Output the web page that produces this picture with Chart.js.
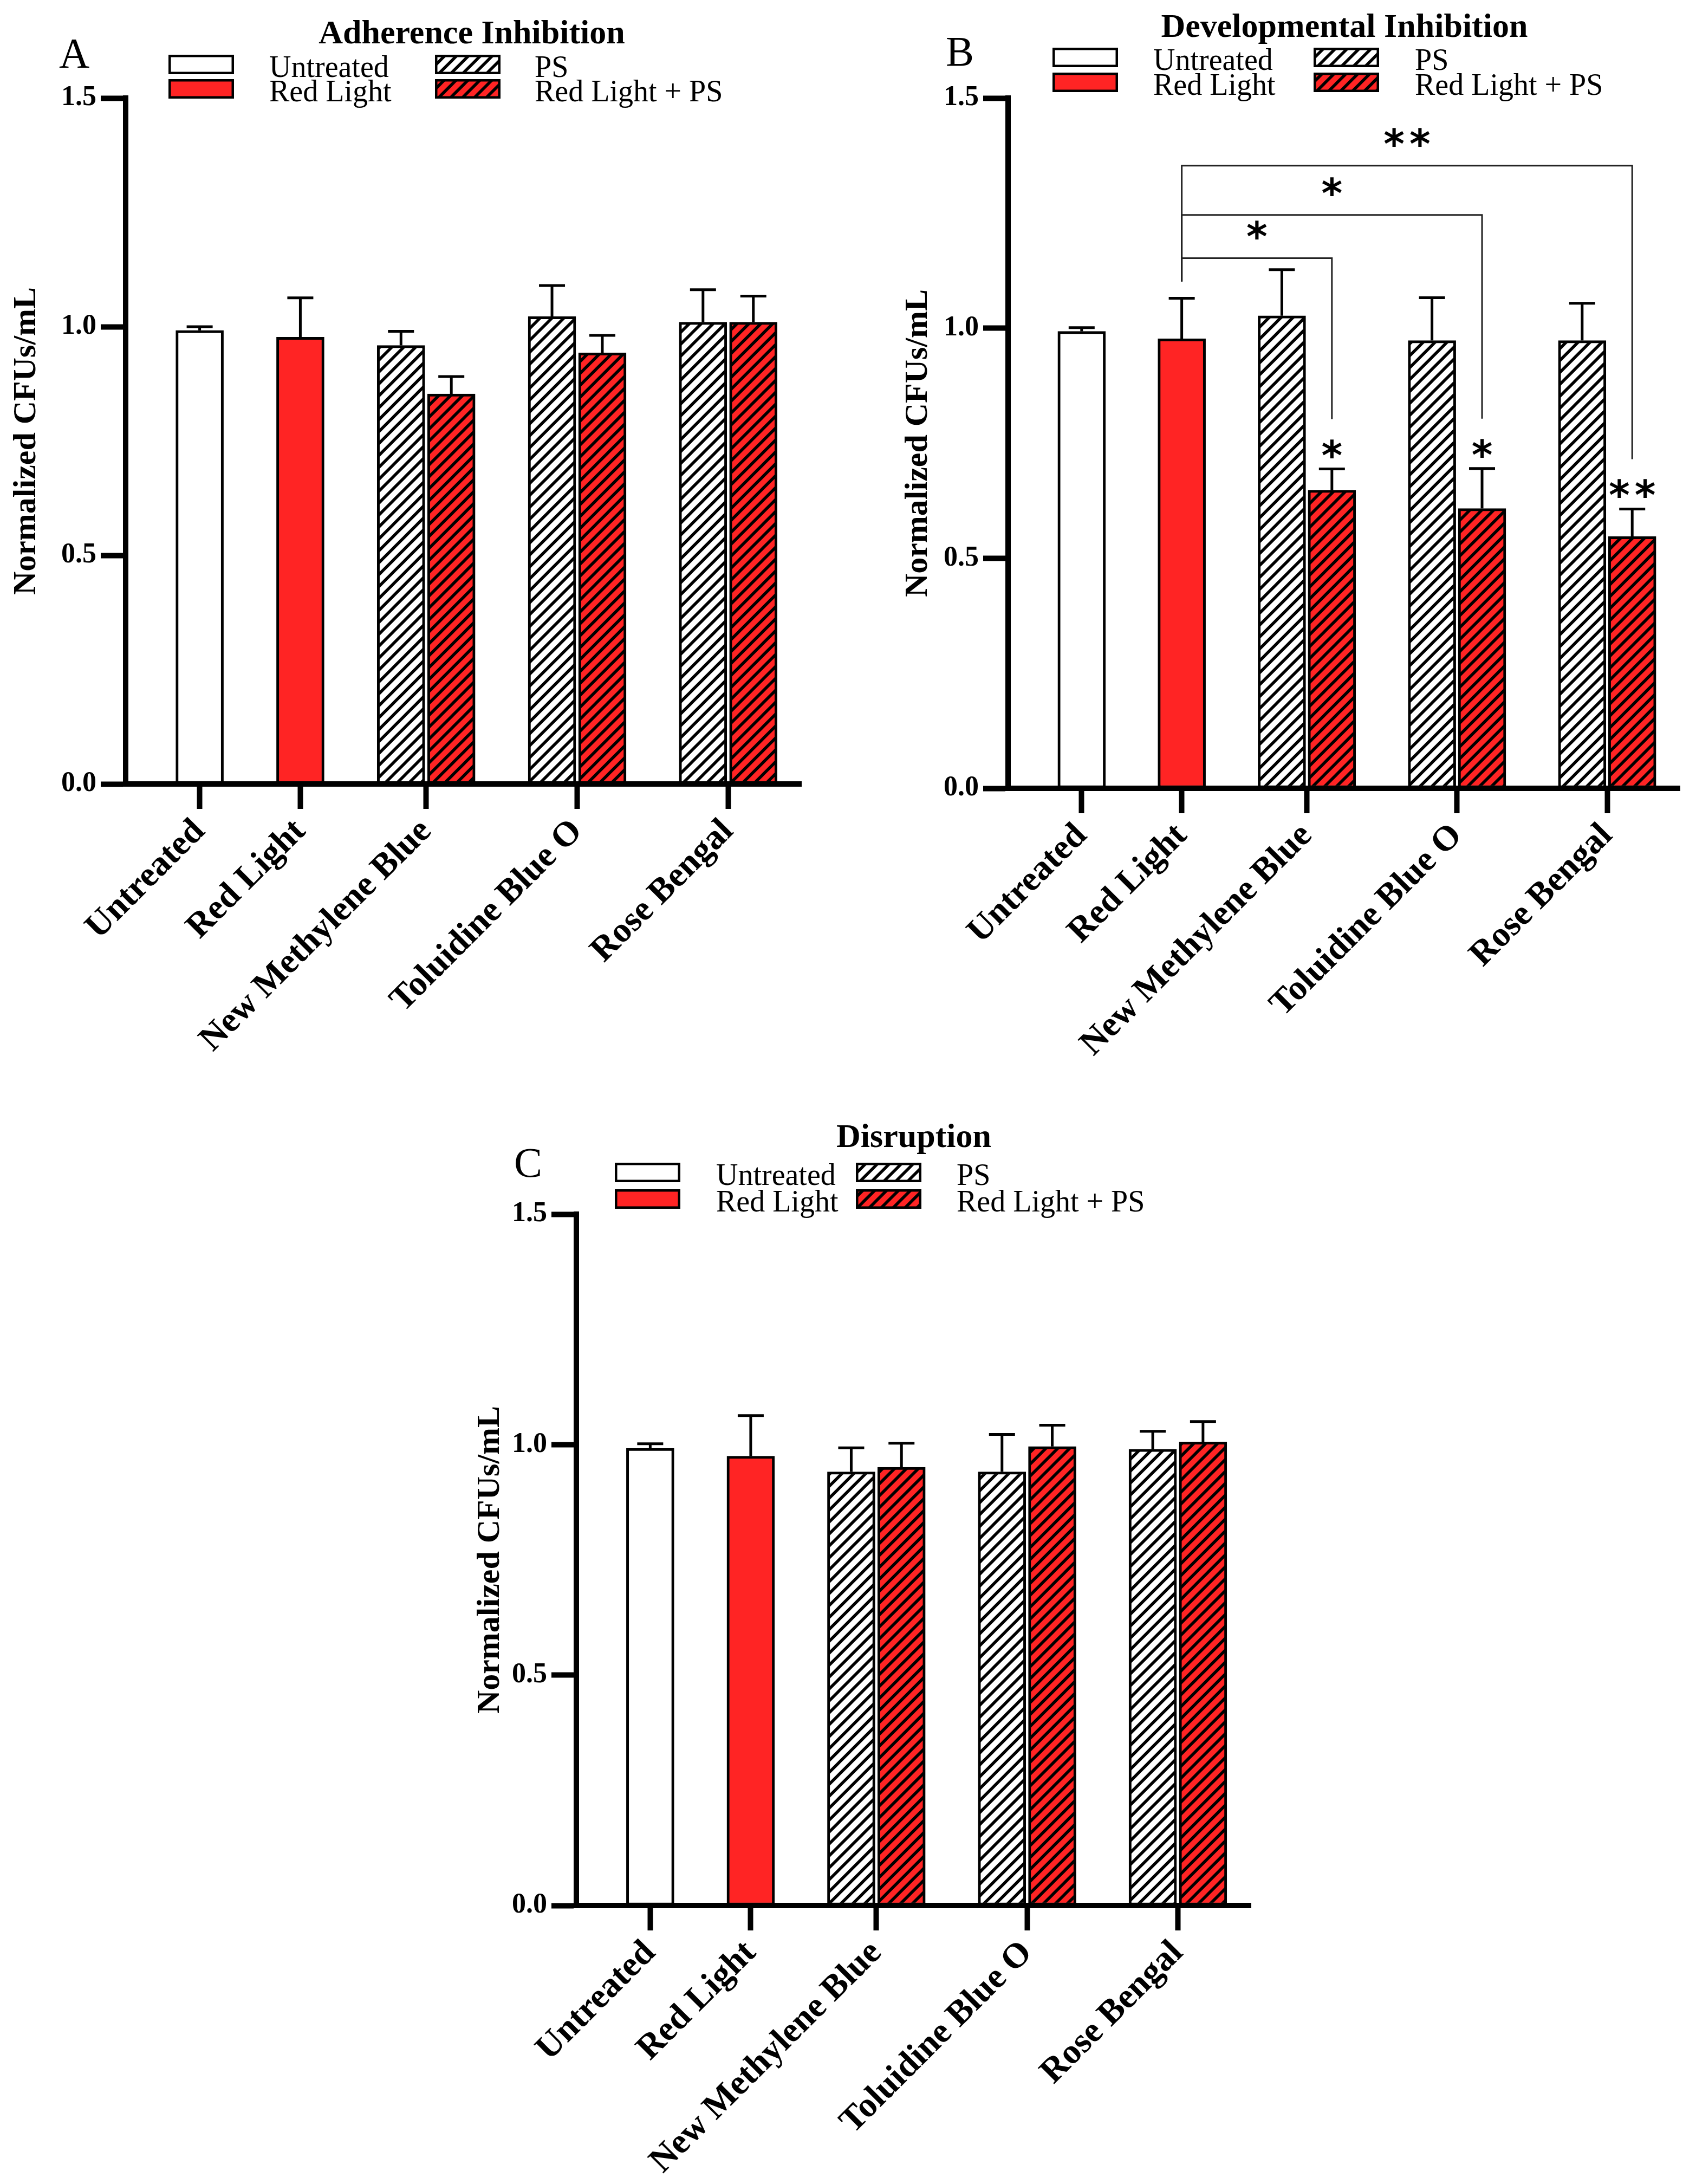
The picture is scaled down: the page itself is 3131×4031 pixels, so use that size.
<!DOCTYPE html>
<html>
<head>
<meta charset="utf-8">
<script src="https://cdn.jsdelivr.net/npm/chart.js@4.4.1/dist/chart.umd.min.js"></script>
<style>
  html, body { margin: 0; padding: 0; background: #fff; }
  body { width: 3131px; height: 4031px; position: relative; overflow: hidden; }
  canvas { position: absolute; }
</style>
</head>
<body>
<canvas id="chartA"></canvas>
<canvas id="chartB"></canvas>
<canvas id="chartC"></canvas>
<script>
// categories, series and tick labels
const categories = ['Untreated', 'Red Light', 'New Methylene Blue', 'Toluidine Blue O', 'Rose Bengal'];
const seriesNames = ['Untreated', 'Red Light', 'PS', 'Red Light + PS'];
const yTicks = [0, 0.5, 1.0, 1.5];
const yTitle = 'Normalized CFUs/mL';

// A - Adherence Inhibition (mean, upper SD)
const adherenceUntreated    = [0.992, null, null, null, null];
const adherenceUntreatedSD  = [0.008, null, null, null, null];
const adherenceRedLight     = [null, 0.977, null, null, null];
const adherenceRedLightSD   = [null, 0.086, null, null, null];
const adherencePS           = [null, null, 0.959, 1.022, 1.010];
const adherencePSSD         = [null, null, 0.031, 0.068, 0.071];
const adherenceRedLightPS   = [null, null, 0.853, 0.943, 1.010];
const adherenceRedLightPSSD = [null, null, 0.038, 0.038, 0.057];

// B - Developmental Inhibition
const developUntreated    = [0.993, null, null, null, null];
const developUntreatedSD  = [0.008, null, null, null, null];
const developRedLight     = [null, 0.977, null, null, null];
const developRedLightSD   = [null, 0.088, null, null, null];
const developPS           = [null, null, 1.027, 0.973, 0.973];
const developPSSD         = [null, null, 0.100, 0.093, 0.081];
const developRedLightPS   = [null, null, 0.648, 0.608, 0.547];
const developRedLightPSSD = [null, null, 0.046, 0.087, 0.060];
// significance in B: Red Light vs Red Light + PS
const developStars     = [null, null, '*', '*', '**'];
const bracketTargets   = [2, 3, 4];
const bracketLevels    = [1.152, 1.246, 1.353];
const bracketLabels    = ['*', '*', '**'];

// C - Disruption
const disruptUntreated    = [0.992, null, null, null, null];
const disruptUntreatedSD  = [0.010, null, null, null, null];
const disruptRedLight     = [null, 0.975, null, null, null];
const disruptRedLightSD   = [null, 0.088, null, null, null];
const disruptPS           = [null, null, 0.941, 0.941, 0.990];
const disruptPSSD         = [null, null, 0.052, 0.081, 0.039];
const disruptRedLightPS   = [null, null, 0.951, 0.996, 1.006];
const disruptRedLightPSSD = [null, null, 0.052, 0.046, 0.044];

const RED = '#ff2424';
const FONT = '"Liberation Serif", "Times New Roman", serif';
Chart.defaults.font.family = FONT;
Chart.defaults.color = '#000';

function hatch(bg) {
  const c = document.createElement('canvas');
  c.width = c.height = 22;
  const g = c.getContext('2d');
  g.fillStyle = bg;
  g.fillRect(0, 0, 22, 22);
  g.strokeStyle = '#000';
  g.lineWidth = 5.5;
  g.beginPath();
  g.moveTo(-11, 11); g.lineTo(11, -11);
  g.moveTo(0, 22); g.lineTo(22, 0);
  g.moveTo(11, 33); g.lineTo(33, 11);
  g.stroke();
  return g.createPattern(c, 'repeat');
}
const fills = ['#ffffff', RED, hatch('#ffffff'), hatch(RED)];

// GraphPad style slots: one slot per bar in a group, one empty slot between groups
function slotLayout(series) {
  const pos = series.map(() => []);
  const centers = [];
  let cursor = 0;
  categories.forEach((c, j) => {
    const n = series.filter(s => s[j] != null).length;
    centers.push(cursor + (n - 1) / 2);
    let k = 0;
    series.forEach((s, i) => { pos[i][j] = s[j] != null ? cursor + k++ : null; });
    cursor += n + 1;
  });
  return { pos, centers };
}

const panels = [
  {
    id: 'chartA', letter: 'A', title: 'Adherence Inhibition',
    series: [adherenceUntreated, adherenceRedLight, adherencePS, adherenceRedLightPS],
    errors: [adherenceUntreatedSD, adherenceRedLightSD, adherencePSSD, adherenceRedLightPSSD],
    box: { x: 0, y: 0, w: 1565, h: 2000 },
    area: { left: 232, top: 181, right: 1479, bottom: 1447 },
    titleAt: [871, 80], letterAt: [109, 124], yTitleX: 49,
    legend: { boxX: [311, 803], textX: [497, 987], rowTop: [101, 146] }
  },
  {
    id: 'chartB', letter: 'B', title: 'Developmental Inhibition',
    series: [developUntreated, developRedLight, developPS, developRedLightPS],
    errors: [developUntreatedSD, developRedLightSD, developPSSD, developRedLightPSSD],
    box: { x: 1565, y: 0, w: 1566, h: 2000 },
    area: { left: 1861, top: 181, right: 3101, bottom: 1455 },
    titleAt: [2482, 68], letterAt: [1746, 121], yTitleX: 1695,
    legend: { boxX: [1943, 2425], textX: [2129, 2612], rowTop: [88, 134] },
    stars: developStars
  },
  {
    id: 'chartC', letter: 'C', title: 'Disruption',
    series: [disruptUntreated, disruptRedLight, disruptPS, disruptRedLightPS],
    errors: [disruptUntreatedSD, disruptRedLightSD, disruptPSSD, disruptRedLightPSSD],
    box: { x: 800, y: 2000, w: 1600, h: 2031 },
    area: { left: 1064, top: 2241, right: 2309, bottom: 3517 },
    titleAt: [1687, 2117], letterAt: [949, 2172], yTitleX: 905,
    legend: { boxX: [1135, 1580], textX: [1322, 1766], rowTop: [2146, 2195] }
  }
];

function findBar(chart, dsIndex, cat) {
  const ds = chart.data.datasets[dsIndex];
  const k = ds.data.findIndex(d => d.cat === cat);
  if (k < 0) return null;
  const el = chart.getDatasetMeta(dsIndex).data[k];
  const cap = chart.scales.y.getPixelForValue(ds.data[k].y + ds.data[k].err);
  return { x: el.x, top: el.y, cap };
}

function starText(ctx, text, x, cy) {
  ctx.font = 'bold 74px "DejaVu Sans"';
  ctx.letterSpacing = text.length > 1 ? '9px' : '0px';
  ctx.textAlign = 'center';
  ctx.textBaseline = 'alphabetic';
  const shift = text.length > 1 ? 4.5 : 0;
  ctx.fillText(text, x + shift, cy + 41);
  ctx.letterSpacing = '0px';
}

function decor(p) {
  return {
    id: 'decor' + p.letter,
    afterDraw(chart) {
      const ctx = chart.ctx;
      const ox = p.box.x, oy = p.box.y;
      ctx.save();
      // error bars (mean + SD)
      ctx.strokeStyle = '#000';
      ctx.lineWidth = 5;
      chart.data.datasets.forEach((ds, i) => {
        ds.data.forEach(d => {
          const b = findBar(chart, i, d.cat);
          ctx.beginPath();
          ctx.moveTo(b.x, b.top);
          ctx.lineTo(b.x, b.cap);
          ctx.moveTo(b.x - 24, b.cap);
          ctx.lineTo(b.x + 24, b.cap);
          ctx.stroke();
        });
      });
      // title and panel letter
      ctx.fillStyle = '#000';
      ctx.textBaseline = 'alphabetic';
      ctx.font = 'bold 62px ' + FONT;
      ctx.textAlign = 'center';
      ctx.fillText(p.title, p.titleAt[0] - ox, p.titleAt[1] - oy);
      ctx.font = '78px ' + FONT;
      ctx.textAlign = 'left';
      ctx.fillText(p.letter, p.letterAt[0] - ox, p.letterAt[1] - oy);
      // legend, two columns
      seriesNames.forEach((name, i) => {
        const col = Math.floor(i / 2), row = i % 2;
        const bx = p.legend.boxX[col] - ox, by = p.legend.rowTop[row] - oy;
        ctx.fillStyle = fills[i];
        ctx.fillRect(bx, by, 121, 36);
        ctx.strokeStyle = '#000';
        ctx.lineWidth = 4.5;
        ctx.strokeRect(bx + 2.25, by + 2.25, 121 - 4.5, 36 - 4.5);
        ctx.fillStyle = '#000';
        ctx.font = '56px ' + FONT;
        ctx.textAlign = 'left';
        ctx.fillText(name, p.legend.textX[col] - ox, by + 41);
      });
      // significance marks
      if (p.stars) {
        ctx.fillStyle = '#000';
        p.stars.forEach((s, j) => {
          if (!s) return;
          const b = findBar(chart, 3, j);
          starText(ctx, s, b.x, b.cap - 40);
        });
        const from = findBar(chart, 1, 1);
        ctx.strokeStyle = '#222';
        ctx.lineWidth = 3;
        bracketTargets.forEach((t, k) => {
          const to = findBar(chart, 3, t);
          const yl = chart.scales.y.getPixelForValue(bracketLevels[k]);
          ctx.beginPath();
          ctx.moveTo(from.x, from.cap - 31);
          ctx.lineTo(from.x, yl);
          ctx.lineTo(to.x, yl);
          ctx.lineTo(to.x, to.cap - 92);
          ctx.stroke();
          starText(ctx, bracketLabels[k], (from.x + to.x) / 2, yl - 55);
        });
      }
      ctx.restore();
    }
  };
}

function makeChart(p) {
  const canvas = document.getElementById(p.id);
  canvas.width = p.box.w;
  canvas.height = p.box.h;
  canvas.style.left = p.box.x + 'px';
  canvas.style.top = p.box.y + 'px';
  canvas.style.width = p.box.w + 'px';
  canvas.style.height = p.box.h + 'px';

  const { pos, centers } = slotLayout(p.series);
  const datasets = p.series.map((vals, i) => ({
    label: seriesNames[i],
    data: vals.map((v, j) => v == null ? null : { x: pos[i][j], y: v, err: p.errors[i][j], cat: j }).filter(Boolean),
    backgroundColor: fills[i],
    borderColor: '#000',
    borderWidth: 5,
    borderSkipped: false,
    grouped: false,
    barPercentage: 1,
    categoryPercentage: 1,
    maxBarThickness: 88
  }));

  const axisWidth = p.area.left - p.box.x;
  const axisHeight = p.box.y + p.box.h - p.area.bottom;
  const tickGrid = { offset: false, drawOnChartArea: false, drawTicks: true, tickLength: 46, tickWidth: 10, tickColor: '#000' };
  const axisBorder = { display: true, width: 10, color: '#000', z: 1 };

  new Chart(canvas, {
    type: 'bar',
    data: { datasets },
    options: {
      responsive: false,
      animation: false,
      devicePixelRatio: 1,
      layout: { padding: { left: 0, top: p.area.top - p.box.y, right: p.box.x + p.box.w - p.area.right, bottom: 0 } },
      plugins: { legend: { display: false }, tooltip: { enabled: false } },
      scales: {
        x: {
          type: 'linear',
          offset: false,
          bounds: 'data',
          min: -1.47,
          max: 11.95,
          afterBuildTicks: s => { s.ticks = centers.map(v => ({ value: v })); },
          afterFit: s => { s.height = axisHeight; },
          ticks: {
            callback: (v, i) => categories[i],
            autoSkip: false,
            minRotation: 45,
            maxRotation: 45,
            padding: 4,
            color: '#000',
            font: { size: 65, weight: 'bold' }
          },
          grid: tickGrid,
          border: axisBorder
        },
        y: {
          min: 0,
          max: 1.5,
          afterBuildTicks: s => { s.ticks = yTicks.map(v => ({ value: v })); },
          afterFit: s => { s.width = axisWidth; },
          ticks: {
            callback: v => v.toFixed(1),
            padding: 8,
            color: '#000',
            font: { size: 52, weight: 'bold' }
          },
          grid: tickGrid,
          border: axisBorder,
          title: {
            display: true,
            text: yTitle,
            color: '#000',
            font: { size: 60, weight: 'bold' },
            padding: { top: p.yTitleX - p.box.x - 36, bottom: 0 }
          }
        }
      }
    },
    plugins: [decor(p)]
  });
}

panels.forEach(makeChart);
</script>
</body>
</html>
